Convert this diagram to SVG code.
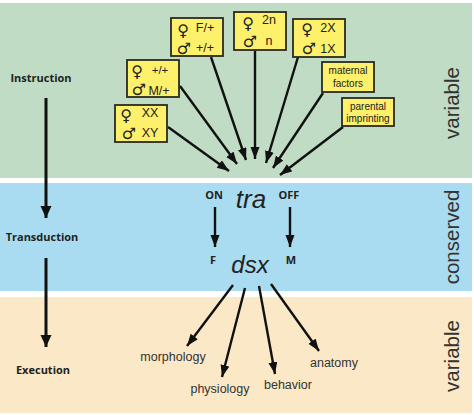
<svg xmlns="http://www.w3.org/2000/svg" width="474" height="415" viewBox="0 0 474 415">
<style>
.b{fill:#fdf06a;stroke:#2a2a22;stroke-width:1.8}
text{font-family:"Liberation Sans",Arial,sans-serif;fill:#222}
.s{font-family:"DejaVu Sans",sans-serif;font-size:16px;font-weight:bold;text-anchor:middle}
.t{font-size:12.5px;text-anchor:middle}
.u{font-size:11.5px;text-anchor:middle}
.n{font-size:10px;text-anchor:middle}
.l{font-size:11px;font-weight:bold;font-family:"Open Sans","Liberation Sans",sans-serif;text-anchor:middle}
.o{font-size:12.5px;text-anchor:middle;fill:#333}
.g{font-size:26px;font-style:italic;text-anchor:middle}
.d{font-size:24px;font-style:italic;text-anchor:middle}
.v{font-size:20.5px;text-anchor:middle;fill:#333}
.k{stroke:#111;fill:none}
.a{stroke-width:2.4;marker-end:url(#h)}
.m{stroke-width:3;marker-end:url(#H)}
</style>
<defs>
<marker id="h" markerUnits="userSpaceOnUse" markerWidth="13" markerHeight="10" refX="12" refY="4.5" orient="auto"><path d="M0 0L12 4.5L0 9z" fill="#111"/></marker>
<marker id="H" markerUnits="userSpaceOnUse" markerWidth="13" markerHeight="12" refX="12" refY="5.5" orient="auto"><path d="M0 0L12 5.5L0 11z" fill="#111"/></marker>
</defs>
<rect x="0" y="3" width="472" height="175" fill="#c0dcc4"/>
<rect x="0" y="183" width="472" height="108" fill="#a9dcf0"/>
<rect x="0" y="297" width="472" height="116" fill="#fbe8c6"/>
<g id="connectors">
<path class="k a" d="M168 127L229 171"/>
<path class="k a" d="M180 86L237 164"/>
<path class="k a" d="M211 57L246 160"/>
<path class="k a" d="M255 51L255 159"/>
<path class="k a" d="M298 57L266 163"/>
<path class="k a" d="M323 93L273 168"/>
<path class="k a" d="M343 127L280 175"/>
<path class="k m" d="M46 98L46 218"/>
<path class="k m" d="M46 258L46 347"/>
<path class="k a" d="M215 207L215 247"/>
<path class="k a" d="M290 207L290 247"/>
<path class="k a" d="M233 285L187 346"/>
<path class="k a" d="M245 288L222 377"/>
<path class="k a" d="M259 286L275 374"/>
<path class="k a" d="M271 284L319 351"/>
</g>
<g id="n-xx"><rect class="b" x="115" y="105" width="52" height="37"/><text class="s" x="126" y="121">♀</text><text class="s" x="129" y="139">♂</text><text class="t" x="150" y="117">XX</text><text class="t" x="150" y="137">XY</text></g>
<g id="n-m"><rect class="b" x="127" y="60" width="52" height="37"/><text class="s" x="137" y="77">♀</text><text class="s" x="139" y="95">♂</text><text class="u" x="160" y="74">+/+</text><text class="t" x="159" y="95">M/+</text></g>
<g id="n-f"><rect class="b" x="171" y="18" width="52" height="38"/><text class="s" x="183" y="36">♀</text><text class="s" x="184" y="54">♂</text><text class="t" x="205" y="32">F/+</text><text class="t" x="205" y="52">+/+</text></g>
<g id="n-2n"><rect class="b" x="234" y="12" width="52" height="38"/><text class="s" x="248" y="29">♀</text><text class="s" x="250" y="47">♂</text><text class="t" x="269" y="24">2n</text><text class="t" x="269" y="45">n</text></g>
<g id="n-2x"><rect class="b" x="293" y="19" width="52" height="38"/><text class="s" x="307" y="35">♀</text><text class="s" x="309" y="54">♂</text><text class="t" x="328" y="32">2X</text><text class="t" x="328" y="53">1X</text></g>
<g id="n-mat"><rect class="b" x="322" y="62" width="52" height="30"/><text class="n" x="348" y="74">maternal</text><text class="n" x="348" y="87">factors</text></g>
<g id="n-par"><rect class="b" x="342" y="98" width="52" height="28"/><text class="n" x="368" y="110">parental</text><text class="n" x="368" y="122">imprinting</text></g>
<g id="n-labels">
<text class="l" x="41" y="82">Instruction</text>
<text class="l" x="42" y="241">Transduction</text>
<text class="l" x="43" y="374">Execution</text>
<text class="l" x="214" y="199">ON</text>
<text class="l" x="289" y="199">OFF</text>
<text class="l" x="213" y="264">F</text>
<text class="l" x="291" y="264">M</text>
<text class="g" x="251" y="208">tra</text>
<text class="d" x="250" y="273">dsx</text>
<text class="o" x="173" y="361">morphology</text>
<text class="o" x="220" y="393">physiology</text>
<text class="o" x="288" y="389">behavior</text>
<text class="o" x="334" y="367">anatomy</text>
<text class="v" transform="translate(459 103) rotate(-90)">variable</text>
<text class="v" transform="translate(459 237) rotate(-90)">conserved</text>
<text class="v" transform="translate(459 356) rotate(-90)">variable</text>
</g>
</svg>
